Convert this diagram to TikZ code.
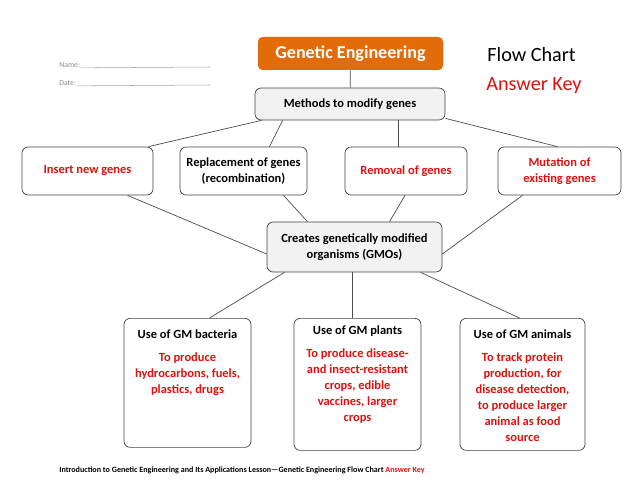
\documentclass[tikz,border=0pt]{standalone}
\usepackage{fontspec}
\setmainfont{Carlito}
\usepackage{tikz}
\usetikzlibrary{positioning}
\definecolor{georange}{HTML}{E36C0A}
\definecolor{gered}{HTML}{E01010}
\definecolor{gegray}{HTML}{F2F2F2}
\begin{document}
\begin{tikzpicture}[x=0.02cm,y=-0.02cm,
    box/.style={draw=black!75,rounded corners=3.5pt,align=center,font=\bfseries\fontsize{7.1}{9.1}\selectfont,inner sep=0pt},
    conn/.style={draw=black!70,line width=0.4pt}]
    
    \useasboundingbox (0,0) rectangle (638,493);
    
    % header
    \node[fill=georange,rounded corners=2.5pt,minimum width=185*0.02cm,minimum height=33*0.02cm,text=white,font=\bfseries\fontsize{10.3}{12}\selectfont] (ge) at (350.5,53.5) {Genetic Engineering};
    \node[font=\fontsize{11.5}{13}\selectfont,anchor=west,inner sep=0pt] (fc) at (487,55) {Flow Chart};
    \node[font=\fontsize{11.5}{13}\selectfont,anchor=west,text=gered,inner sep=0pt] (ak) at (486,86) {Answer Key};
    \node[font=\fontsize{4.4}{5}\selectfont,text=black!45,anchor=west,inner sep=0pt] (nm) at (59,65) {Name:};
    \node[font=\fontsize{4.4}{5}\selectfont,text=black!45,anchor=west,inner sep=0pt] (dt) at (59,83) {Date:};
    \draw[black!35,line width=0.3pt] (nm.south east) -- (210,67);
    \draw[black!35,line width=0.3pt] (dt.south east) -- (210,85);
    
    % methods
    \node[box,fill=gegray,minimum width=190*0.02cm,minimum height=32*0.02cm] (meth) at (350,104) {Methods to modify genes};
    \node[box,minimum width=131*0.02cm,minimum height=48*0.02cm] (ins) at (87.5,171) {\textcolor{gered}{Insert new genes}};
    \node[box,minimum width=127*0.02cm,minimum height=48*0.02cm] (rep) at (243.5,171) {Replacement of genes\\(recombination)};
    \node[box,minimum width=122*0.02cm,minimum height=48*0.02cm] (rem) at (406,171) {\textcolor{gered}{Removal of genes}};
    \node[box,minimum width=123*0.02cm,minimum height=48*0.02cm] (mut) at (559.5,171) {\textcolor{gered}{Mutation of}\\\textcolor{gered}{existing genes}};
    \node[box,fill=gegray,minimum width=175*0.02cm,minimum height=50*0.02cm] (gmo) at (354.5,247) {Creates genetically modified\\organisms (GMOs)};
    
    % uses
    \node[box,minimum width=127*0.02cm,minimum height=129*0.02cm,anchor=north] (bac) at (187.5,318) {};
    \node[box,minimum width=127*0.02cm,minimum height=132*0.02cm,anchor=north] (pla) at (357.5,318) {};
    \node[box,minimum width=125*0.02cm,minimum height=132*0.02cm,anchor=north] (ani) at (522.5,318) {};
    \node[box,draw=none,anchor=north] (bact) at (187.5,329) {Use of GM bacteria\\[4pt]\textcolor{gered}{To produce}\\\textcolor{gered}{hydrocarbons, fuels,}\\\textcolor{gered}{plastics, drugs}};
    \node[box,draw=none,anchor=north] (plat) at (357.5,325) {Use of GM plants\\[4pt]\textcolor{gered}{To produce disease-}\\\textcolor{gered}{and insect-resistant}\\\textcolor{gered}{crops, edible}\\\textcolor{gered}{vaccines, larger}\\\textcolor{gered}{crops}};
    \node[box,draw=none,anchor=north] (anit) at (522.5,329) {Use of GM animals\\[4pt]\textcolor{gered}{To track protein}\\\textcolor{gered}{production, for}\\\textcolor{gered}{disease detection,}\\\textcolor{gered}{to produce larger}\\\textcolor{gered}{animal as food}\\\textcolor{gered}{source}};
    
    % connectors
    \draw[conn] (ge) -- (meth);
    \draw[conn] ([xshift=7*0.02cm]meth.south west) -- ([xshift=-5*0.02cm]ins.north east);
    \draw[conn] ([xshift=28*0.02cm]meth.south west) -- ([xshift=26*0.02cm]rep.north);
    \draw[conn] ([xshift=48*0.02cm]meth.south) -- ([xshift=-8*0.02cm]rem.north);
    \draw[conn] ([yshift=2*0.02cm]meth.south east) -- ([xshift=-2*0.02cm]mut.north);
    \draw[conn] ([xshift=40*0.02cm]ins.south) -- ([yshift=-7*0.02cm]gmo.west);
    \draw[conn] ([xshift=40*0.02cm]rep.south) -- ([xshift=-47*0.02cm]gmo.north);
    \draw[conn] ([xshift=-1*0.02cm]rem.south) -- ([xshift=35*0.02cm]gmo.north);
    \draw[conn] ([xshift=-37*0.02cm]mut.south) -- ([yshift=-7*0.02cm]gmo.east);
    \draw[conn] ([xshift=-70*0.02cm]gmo.south) -- ([xshift=22*0.02cm]bac.north);
    \draw[conn] ([xshift=-2*0.02cm]gmo.south) -- ([xshift=-5*0.02cm]pla.north);
    \draw[conn] ([xshift=66*0.02cm]gmo.south) -- ([xshift=-3*0.02cm]ani.north);
    
    % footer
    \node[anchor=west,inner sep=0pt,font=\bfseries\fontsize{4.6}{5}\selectfont] (foot) at (59,470) {Introduction to Genetic Engineering and Its Applications Lesson—Genetic Engineering Flow Chart \textcolor{gered}{Answer Key}};
\end{tikzpicture}
\end{document}
